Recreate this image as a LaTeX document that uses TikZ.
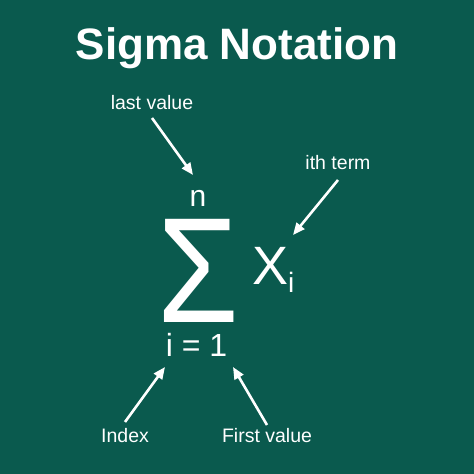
\documentclass[tikz,border=0pt]{standalone}
\usepackage{fontspec}
\setmainfont{Liberation Sans}
\usetikzlibrary{arrows.meta}

\definecolor{boardgreen}{HTML}{0A5A4E}

\begin{document}
\begin{tikzpicture}[x=1pt, y=1pt, >={Triangle[length=12pt,width=10pt]}]
  \tikzset{
    lbl/.style={text=white, inner sep=0pt, anchor=base, font=\fontsize{19.5}{20}\selectfont},
    sym/.style={text=white, inner sep=0pt, anchor=base},
    arr/.style={->, draw=white, line width=2.6pt}
  }
  \fill[boardgreen] (0,0) rectangle (474,474);
  \useasboundingbox (0,0) rectangle (474,474);

  % title
  \node[sym, font=\fontsize{44}{44}\selectfont\bfseries] (title) at (237,414) {Sigma Notation};

  % the sum
  \node[sym, font=\fontsize{150}{150}\selectfont, xscale=0.88] (sigma) at (198.5,151) {Σ};
  \node[sym, font=\fontsize{30}{30}\selectfont] (upper) at (198,267) {n};
  \node[sym, font=\fontsize{32}{32}\selectfont] (lower) at (196.5,117) {i = 1};
  \node[sym, font=\fontsize{54}{54}\selectfont, anchor=base west] (term) at (252,189)
    {X\raisebox{-8pt}{\fontsize{28}{28}\selectfont i}};

  % labels
  \node[lbl] (last) at (152,364) {last value};
  \node[lbl] (ith) at (338,304) {ith term};
  \node[lbl] (index) at (125,31) {Index};
  \node[lbl] (first) at (267,31) {First value};

  % arrow ends
  \coordinate (lastTail) at (152,356);
  \coordinate (upperTip) at (193,299);
  \coordinate (ithTail) at (338,294);
  \coordinate (termTip) at (293,239);
  \coordinate (indexTail) at (125,52);
  \coordinate (lowerTipA) at (165,107);
  \coordinate (firstTail) at (267,49);
  \coordinate (lowerTipB) at (233,107);

  \draw[arr] (lastTail) -- (upperTip);
  \draw[arr] (ithTail) -- (termTip);
  \draw[arr] (indexTail) -- (lowerTipA);
  \draw[arr] (firstTail) -- (lowerTipB);
\end{tikzpicture}
\end{document}
